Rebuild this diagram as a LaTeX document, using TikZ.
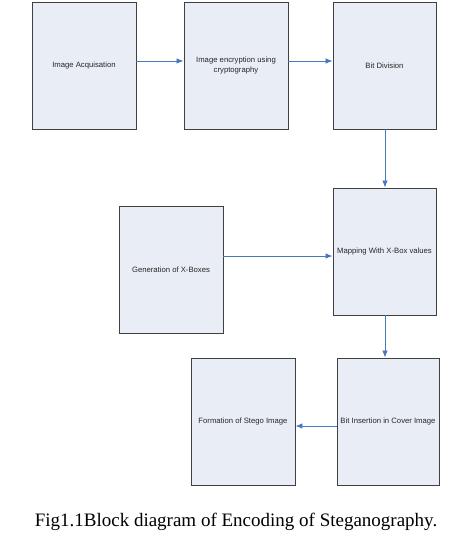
\documentclass[tikz,border=0pt]{standalone}
\usepackage{fontspec}
\setmainfont{Liberation Serif}
\newfontfamily\boxfont{Liberation Sans}
\usetikzlibrary{arrows.meta}
\definecolor{boxfill}{HTML}{E9EDF5}
\definecolor{boxline}{HTML}{404040}
\definecolor{arrowblue}{HTML}{4A78C0}
\tikzset{
  blk/.style={draw=boxline, line width=0.9pt, fill=boxfill, inner sep=0pt, align=center,
    font=\boxfont\fontsize{7.7}{9.5}\selectfont, text=black!85},
  conn/.style={draw=arrowblue, line width=0.8pt, -{Latex[length=7pt,width=5.5pt]}},
}
\begin{document}
\begin{tikzpicture}[x=1pt,y=-1pt]
\useasboundingbox (0,0) rectangle (474,536);
\fill[white] (0,0) rectangle (474,536);
% boxes: corners given in pixel coordinates
\node[blk, minimum width=104pt, minimum height=127pt] (acq) at (84,65.5) {Image Acquisation};
\node[blk, minimum width=104pt, minimum height=127pt] (enc) at (236,65.5) {Image encryption using\\cryptography};
\node[blk, minimum width=103pt, minimum height=127pt] (bit) at (384.5,65.5) {Bit Division};
\node[blk, minimum width=103pt, minimum height=127pt] (map) at (384.5,251.5) {Mapping With X-Box values};
\node[blk, minimum width=104pt, minimum height=127pt] (gen) at (171,269.5) {Generation of X-Boxes};
\node[blk, minimum width=102pt, minimum height=127pt] (ins) at (388,421.5) {Bit Insertion in Cover Image};
\node[blk, minimum width=104pt, minimum height=127pt] (form) at (243,421.5) {Formation of Stego Image};
% connectors
\draw[conn] (acq.east |- 0,61) -- (enc.west |- 0,61);
\draw[conn] (enc.east |- 0,61) -- (bit.west |- 0,61);
\draw[conn] (bit.south -| 385,0) -- (map.north -| 385,0);
\draw[conn] (gen.east |- 0,256) -- (map.west |- 0,256);
\draw[conn] (map.south -| 385,0) -- (ins.north -| 385,0);
\draw[conn] (ins.west |- 0,426) -- (form.east |- 0,426);
% caption
\node[font=\fontsize{19}{22}\selectfont, anchor=center] (cap) at (236,522) {Fig1.1Block diagram of Encoding of Steganography.};
\end{tikzpicture}
\end{document}
